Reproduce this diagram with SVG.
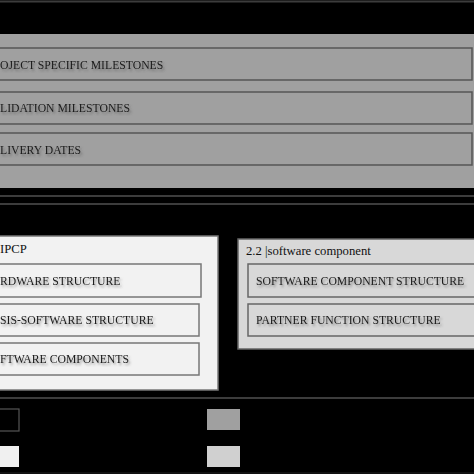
<svg xmlns="http://www.w3.org/2000/svg" width="474" height="474" viewBox="0 0 474 474">
<defs>
<filter id="sh" x="-5%" y="-40%" width="115%" height="200%">
<feDropShadow dx="1.5" dy="2" stdDeviation="1.2" flood-color="#444" flood-opacity="0.55"/>
</filter>
<style>
.t{font-family:"Liberation Serif","Times New Roman",serif;font-size:11.7px;fill:#1a1a1a;filter:url(#sh)}
.h{font-family:"Liberation Serif","Times New Roman",serif;font-size:12.7px;fill:#111}
.row{fill:#a0a0a0;stroke:#555;stroke-width:1.5}
.wb{fill:#f2f2f2;stroke:#777;stroke-width:1.5}
.gb{fill:#d8d8d8;stroke:#666;stroke-width:1.5}
.ln{stroke:#3c3c3c;stroke-width:2}
</style>
</defs>
<rect width="474" height="474" fill="#000"/>
<line class="ln" x1="0" y1="1.5" x2="474" y2="1.5"/>
<g id="milestones">
<rect x="-2" y="34" width="478" height="154" fill="#a0a0a0"/>
<g id="row1"><rect class="row" x="-5" y="48" width="477" height="32"/><text class="t" x="0" y="69">OJECT SPECIFIC MILESTONES</text></g>
<g id="row2"><rect class="row" x="-5" y="92" width="477" height="32"/><text class="t" x="0" y="112">LIDATION MILESTONES</text></g>
<g id="row3"><rect class="row" x="-5" y="133" width="477" height="32"/><text class="t" x="0" y="154">LIVERY DATES</text></g>
</g>
<g id="connectors">
<line class="ln" x1="0" y1="196" x2="474" y2="196"/>
<line class="ln" x1="0" y1="204" x2="474" y2="204"/>
<line class="ln" x1="0" y1="398" x2="474" y2="398"/>
<line x1="0" y1="473" x2="474" y2="473" stroke="#222" stroke-width="1"/>
</g>
<g id="ipcp">
<rect class="wb" x="-3" y="236" width="221" height="154"/>
<text class="h" x="0" y="253">IPCP</text>
<g id="hw"><rect class="wb" x="-3" y="264" width="204" height="33"/><text class="t" x="0" y="285">RDWARE STRUCTURE</text></g>
<g id="bsw"><rect class="wb" x="-3" y="304" width="202" height="32"/><text class="t" x="0" y="324">SIS-SOFTWARE STRUCTURE</text></g>
<g id="swc"><rect class="wb" x="-3" y="343" width="202" height="32"/><text class="t" x="0" y="363">FTWARE COMPONENTS</text></g>
</g>
<g id="swcomp">
<rect class="gb" x="238" y="239" width="240" height="110"/>
<text class="h" x="246" y="255">2.2 |software component</text>
<g id="scs"><rect class="gb" x="248" y="264" width="230" height="33"/><text class="t" x="256" y="285">SOFTWARE COMPONENT STRUCTURE</text></g>
<g id="pfs"><rect class="gb" x="248" y="304" width="230" height="32"/><text class="t" x="256" y="324">PARTNER FUNCTION STRUCTURE</text></g>
</g>
<g id="legend">
<rect x="-2" y="409" width="21" height="22" fill="#000" stroke="#555" stroke-width="1.2"/>
<rect x="-2" y="446" width="21" height="21" fill="#f0f0f0"/>
<rect x="207" y="409" width="33" height="21" fill="#a0a0a0"/>
<rect x="207" y="446" width="33" height="21" fill="#d0d0d0"/>
</g>
</svg>
